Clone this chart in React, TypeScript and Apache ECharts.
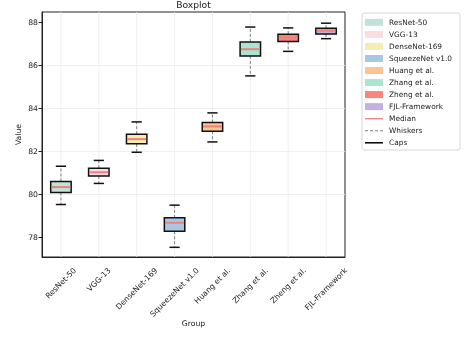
import React, { useEffect, useRef } from 'react';
import * as echarts from 'echarts';

const categories = ['ResNet-50', 'VGG-13', 'DenseNet-169', 'SqueezeNet v1.0', 'Huang et al.', 'Zhang et al.', 'Zheng et al.', 'FJL-Framework'];
const lows = [79.52, 80.5, 81.95, 77.53, 82.43, 85.5, 86.64, 87.23];
const q1s = [80.08, 80.84, 82.34, 78.28, 82.93, 86.43, 87.1, 87.45];
const medians = [80.33, 81.02, 82.56, 78.67, 83.15, 86.74, 87.27, 87.6];
const q3s = [80.59, 81.21, 82.79, 78.9, 83.33, 87.08, 87.44, 87.71];
const highs = [81.3, 81.57, 83.36, 79.49, 83.78, 87.77, 87.73, 87.95];
const yTicks = [78, 80, 82, 84, 86, 88];
const extraLegend = ['Median', 'Whiskers', 'Caps'];

const boxColors = ['#bfe2d9', '#fbdce0', '#f5ecb0', '#a7c7e3', '#fcc48e', '#abe4cf', '#f9847b', '#c4b2de'];
const FONT = 'DejaVu Sans';
const FS = 7.7;
const MEDIAN_COLOR = '#f08080';
const WHISKER_COLOR = '#808080';

function measure(text: string): number {
  const c = document.createElement('canvas').getContext('2d');
  if (!c) return text.length * FS * 0.6;
  c.font = `${FS}px "${FONT}"`;
  return c.measureText(text).width;
}

export default function App() {
  const ref = useRef<HTMLDivElement>(null);
  useEffect(() => {
    if (!ref.current) return;
    const chart = echarts.init(ref.current, null, { renderer: 'svg' });

    const rows = categories.map((_, i) => [i, lows[i], q1s[i], medians[i], q3s[i], highs[i]]);
    const catData = categories.map((c) => {
      const p = 0.5 * (measure(c) + 9);
      return {
        value: c,
        textStyle: { padding: [0, p, 0, 0], lineHeight: p, align: 'center', verticalAlign: 'middle' },
      };
    });

    const legendX = 362;
    const legendY = 13;
    const rowH = 12.05;
    const legendItems: any[] = [
      {
        type: 'rect',
        shape: { x: legendX, y: legendY, width: 98, height: 137, r: 2 },
        style: { fill: 'rgba(255,255,255,0.9)', stroke: '#d8d8d8', lineWidth: 1 },
      },
    ];
    const allLegend = [...categories, ...extraLegend];
    allLegend.forEach((name, i) => {
      const cy = legendY + 9.3 + i * rowH;
      if (i < categories.length) {
        legendItems.push({
          type: 'rect',
          shape: { x: 365, y: cy - 3.5, width: 18, height: 7 },
          style: { fill: boxColors[i] },
        });
      } else {
        const kind = name;
        legendItems.push({
          type: 'line',
          shape: { x1: 365, y1: cy, x2: 383, y2: cy },
          style:
            kind === 'Median'
              ? { stroke: MEDIAN_COLOR, lineWidth: 1.3 }
              : kind === 'Whiskers'
              ? { stroke: WHISKER_COLOR, lineWidth: 1, lineDash: [3, 2] }
              : { stroke: '#000', lineWidth: 1.5 },
        });
      }
      legendItems.push({
        type: 'text',
        x: 389,
        y: cy,
        style: { text: name, fontSize: 7.4, fontFamily: FONT, fill: '#222', align: 'left', verticalAlign: 'middle' },
      });
    });

    const option: any = {
      animation: false,
      textStyle: { fontFamily: FONT },
      grid: { left: 42, right: 129, top: 12, bottom: 95, show: true, borderColor: '#222', borderWidth: 1, outerBoundsMode: 'none' },
      xAxis: {
        type: 'category',
        data: catData,
        boundaryGap: true,
        name: 'Group',
        nameLocation: 'middle',
        nameGap: 62,
        nameMoveOverlap: false,
        nameTextStyle: { fontSize: FS, color: '#222', fontFamily: FONT },
        axisLine: { lineStyle: { color: '#222', width: 1 } },
        axisTick: { alignWithLabel: true, length: 3.5, lineStyle: { color: '#222' } },
        axisLabel: {
          interval: 0,
          rotate: 45,
          margin: 9,
          fontSize: FS,
          color: '#222',
          fontFamily: FONT,
          hideOverlap: false,
          formatter: (v: string) => '\n' + v,
        },
        splitLine: { show: false },
      },
      yAxis: {
        type: 'value',
        min: 77.08,
        max: 88.47,
        splitNumber: 5,
        name: 'Value',
        nameLocation: 'middle',
        nameRotate: 90,
        nameGap: 20,
        nameMoveOverlap: false,
        nameTextStyle: { fontSize: FS, color: '#222', fontFamily: FONT },
        axisLine: { show: true, lineStyle: { color: '#222', width: 1 } },
        axisTick: { show: true, length: 3.5, lineStyle: { color: '#222' }, customValues: yTicks },
        axisLabel: { fontSize: FS, color: '#222', fontFamily: FONT, margin: 4, customValues: yTicks },
        splitLine: { show: true, showMinLine: false, showMaxLine: false, lineStyle: { color: '#ebebeb', width: 0.8 } },
      },
      graphic: [
        {
          type: 'text',
          x: 193.5,
          y: 4.6,
          style: { text: 'Boxplot', fontSize: 9.2, fontFamily: FONT, fill: '#222', align: 'center', verticalAlign: 'middle' },
        },
        ...legendItems,
      ],
      series: [
        {
          type: 'custom',
          data: rows,
          encode: { x: 0, y: [1, 2, 3, 4, 5] },
          renderItem: (params: any, api: any) => {
            const i = api.value(0);
            const cs = params.coordSys;
            const pLow = api.coord([i, api.value(1)]);
            const pQ1 = api.coord([i, api.value(2)]);
            const pMed = api.coord([i, api.value(3)]);
            const pQ3 = api.coord([i, api.value(4)]);
            const pHigh = api.coord([i, api.value(5)]);
            const cx = pMed[0];
            const bw = api.size([1, 0])[0] * 0.54;
            const cw = bw * 0.5;
            return {
              type: 'group',
              children: [
                {
                  type: 'line',
                  shape: { x1: cx, y1: cs.y, x2: cx, y2: cs.y + cs.height },
                  style: { stroke: '#ebebeb', lineWidth: 0.8 },
                },
                {
                  type: 'line',
                  shape: { x1: cx, y1: pQ3[1], x2: cx, y2: pHigh[1] },
                  style: { stroke: WHISKER_COLOR, lineWidth: 1, lineDash: [3, 2] },
                },
                {
                  type: 'line',
                  shape: { x1: cx, y1: pQ1[1], x2: cx, y2: pLow[1] },
                  style: { stroke: WHISKER_COLOR, lineWidth: 1, lineDash: [3, 2] },
                },
                {
                  type: 'rect',
                  shape: { x: cx - bw / 2, y: pQ3[1], width: bw, height: pQ1[1] - pQ3[1] },
                  style: { fill: boxColors[params.dataIndex], stroke: '#111', lineWidth: 1.5 },
                },
                {
                  type: 'line',
                  shape: { x1: cx - bw / 2 + 0.8, y1: pMed[1], x2: cx + bw / 2 - 0.8, y2: pMed[1] },
                  style: { stroke: MEDIAN_COLOR, lineWidth: 2 },
                },
                {
                  type: 'line',
                  shape: { x1: cx - cw / 2, y1: pHigh[1], x2: cx + cw / 2, y2: pHigh[1] },
                  style: { stroke: '#111', lineWidth: 1.5 },
                },
                {
                  type: 'line',
                  shape: { x1: cx - cw / 2, y1: pLow[1], x2: cx + cw / 2, y2: pLow[1] },
                  style: { stroke: '#111', lineWidth: 1.5 },
                },
              ],
            };
          },
        },
      ],
    };
    chart.setOption(option);
    return () => chart.dispose();
  }, []);
  return <div ref={ref} style={{ position: 'fixed', left: 0, top: 0, width: 474, height: 352 }} />;
}
